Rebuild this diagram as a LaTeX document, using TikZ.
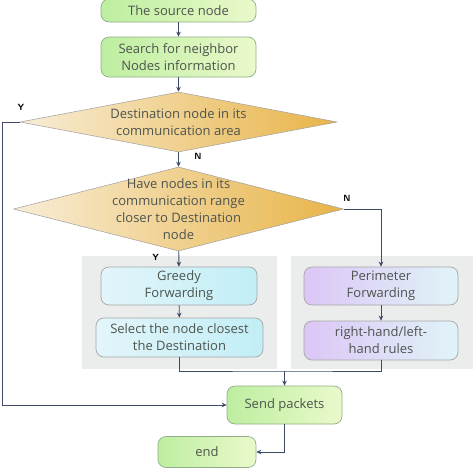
\documentclass[tikz,border=0pt]{standalone}
\usepackage{fontspec}
\setmainfont{Open Sans}
\usepackage{tikz}
\usetikzlibrary{arrows.meta,positioning,shapes.geometric}
\definecolor{linecol}{HTML}{3B4B66}
\definecolor{txtcol}{HTML}{4E544E}
\definecolor{greenL}{HTML}{BDEEA0}
\definecolor{greenR}{HTML}{EAF9CB}
\definecolor{greenB}{HTML}{8FAE88}
\definecolor{orangeL}{HTML}{F8EDD6}
\definecolor{orangeR}{HTML}{E8B448}
\definecolor{cyanL}{HTML}{E2F5FA}
\definecolor{cyanR}{HTML}{C2EEF6}
\definecolor{purpleL}{HTML}{DCC6F6}
\definecolor{purpleR}{HTML}{E0F4F8}
\definecolor{panelcol}{HTML}{EBECEC}
\tikzset{
  box/.style={rounded corners=8pt,draw=greenB,line width=0.7pt,align=center,
    text=txtcol,font=\fontsize{13}{17}\selectfont,inner sep=0pt},
  greenbox/.style={box,left color=greenL,right color=greenR},
  cyanbox/.style={box,draw=gray!70,left color=cyanL,right color=cyanR},
  purplebox/.style={box,draw=gray!70,left color=purpleL,right color=purpleR},
  decision/.style={diamond,draw=gray!75,line width=0.5pt,inner sep=0pt,
    left color=orangeL,right color=orangeR},
  dtext/.style={align=center,text=txtcol,font=\fontsize{13}{17}\selectfont},
  panel/.style={fill=panelcol,inner sep=0pt},
  yn/.style={font=\sffamily\bfseries\small,text=black},
  link/.style={draw=linecol,line width=0.9pt},
  >={Stealth[length=5pt,width=4.5pt]}
}
\begin{document}
\begin{tikzpicture}[x=1pt,y=-1pt]
\useasboundingbox (0,0) rectangle (474,467);
\node[panel,minimum width=195pt,minimum height=113pt] (P1) at (179.5,312.5) {};
\node[panel,minimum width=182pt,minimum height=113pt] (P2) at (382,312.5) {};
\node[greenbox,minimum width=155pt,minimum height=23pt] (S) at (178.5,10.5) {The source node};
\node[greenbox,minimum width=155pt,minimum height=40pt] (N) at (178.5,57) {Search for neighbor\\Nodes information};
\node[decision,minimum width=317pt,minimum height=60pt,
  label={[dtext]center:{Destination node in its\\communication area}}] (D) at (178.5,122) {};
\node[decision,minimum width=330pt,minimum height=84pt,
  label={[dtext]center:{Have nodes in its\\communication range\\closer to Destination\\node}}] (C) at (178.5,209) {};
\node[cyanbox,minimum width=156pt,minimum height=38pt] (G) at (179,286) {Greedy\\Forwarding};
\node[cyanbox,minimum width=167pt,minimum height=39pt] (G') at (179.5,337.5) {Select the node closest\\the Destination};
\node[purplebox,minimum width=154pt,minimum height=38pt] (R) at (381,286) {Perimeter\\Forwarding};
\node[purplebox,minimum width=154pt,minimum height=39pt] (R') at (381,340.5) {right-hand/left-\\hand rules};
\node[greenbox,minimum width=115pt,minimum height=38pt] (T) at (284.5,405) {Send packets};
\node[greenbox,minimum width=98pt,minimum height=31pt] (E) at (207,452) {end};
\coordinate (Y) at (2,122);
\coordinate (M) at (284.5,371);
\path[->,link]
(S) edge (N)
(N) edge (D)
(D) edge node[yn,right,pos=0.3,xshift=12pt] {N} (C)
(C) edge node[yn,left,pos=0.4,xshift=-16pt] {Y} (G)
(G) edge (G')
(R) edge (R');
\draw[->,link] (M) -- (T);
\draw[->,link] (D.west) -- (Y) |- (T.west);
\draw[->,link] (C.east) -| (R.north);
\draw[link] (G'.south) |- (M) -| (R'.south);
\draw[->,link] (T.south) |- (E.east);
\node[yn] (YL) at (21,107) {Y};
\node[yn] (NL) at (347,198) {N};
\end{tikzpicture}
\end{document}
